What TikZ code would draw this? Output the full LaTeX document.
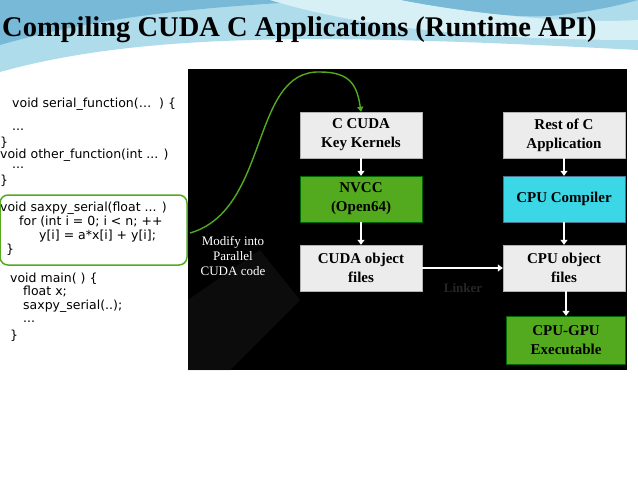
\documentclass[tikz,border=0pt]{standalone}
\usepackage{fontspec}
\setmainfont{Liberation Serif}
\newfontfamily\codefont{DejaVu Sans}
\usetikzlibrary{arrows.meta}
\definecolor{ngreen}{RGB}{84,170,30}
\definecolor{ncyan}{RGB}{60,215,230}
\definecolor{sw1}{RGB}{120,185,215}
\definecolor{sw2}{RGB}{175,220,235}
\definecolor{sw3}{RGB}{215,240,245}
\begin{document}
\begin{tikzpicture}[x=1pt,y=-1pt,
  box/.style={draw=gray!60,fill=gray!15,minimum width=122pt,minimum height=46pt,align=center,font=\bfseries\fontsize{15}{19}\selectfont,text=black,inner sep=1pt},
  gbox/.style={box,fill=ngreen,draw=green!40!black},
  cbox/.style={box,fill=ncyan,draw=cyan!50!black},
  code/.style={anchor=west,font=\codefont\fontsize{12.5}{13}\selectfont,inner sep=0pt},
  arr/.style={white,line width=1.6pt,-{Triangle[length=5pt,width=7pt]}}]
\useasboundingbox (0,0) rectangle (638,479);
\fill[white] (0,0) rectangle (638,479);
% background swoosh
\fill[sw2] (0,0) -- (0,72) .. controls (150,30) and (350,35) .. (638,50) -- (638,0) -- cycle;
\fill[sw1] (0,0) -- (0,45) .. controls (120,10) and (250,5) .. (330,0) -- cycle;
\fill[sw1] (400,0) .. controls (450,10) and (520,20) .. (560,15) .. controls (600,10) and (620,5) .. (638,0) -- cycle;
\fill[sw3] (270,0) .. controls (320,15) and (420,40) .. (638,40) -- (638,20) .. controls (560,25) and (450,10) .. (400,0) -- cycle;
\node[anchor=west,font=\bfseries\fontsize{28.5}{30}\selectfont,inner sep=0pt] (title) at (2,30) {Compiling CUDA C Applications (Runtime API)};
% black panel
\fill[black] (188,69) rectangle (627,370);
\fill[gray!20!black,opacity=0.5] (188,300) -- (260,250) -- (300,300) -- (230,370) -- (188,370) -- cycle;
% code
\node[code] (c1) at (12,104) {void serial\_function(…~~) \{};
\node[code] (c2) at (12,130) {...};
\node[code] (c3) at (0,143) {\}};
\node[code] (c4) at (0,155) {void other\_function(int ... )};
\node[code] (c5) at (12,168) {...};
\node[code] (c6) at (0,181) {\}};
\node[code] (c7) at (0,208) {void saxpy\_serial(float ... )};
\node[code] (c8) at (19,222) {for (int i = 0; i < n; ++};
\node[code] (c9) at (39,236) {y[i] = a*x[i] + y[i];};
\node[code] (c10) at (6,250) {\}};
\node[code] (c11) at (10,279) {void main( ) \{};
\node[code] (c12) at (23,291) {float x;};
\node[code] (c13) at (23,306) {saxpy\_serial(..);};
\node[code] (c14) at (23,322) {...};
\node[code] (c15) at (10,336) {\}};
\draw[ngreen,line width=1.5pt,rounded corners=8pt] (0,195) rectangle (187,265);
\coordinate (cs) at (190,233);
\node[white,align=center,font=\fontsize{13}{15}\selectfont] (mod) at (233,256) {Modify into\\Parallel\\CUDA code};
% boxes
\node[box] (ck) at (361,135) {C CUDA\\Key Kernels};
\node[box] (rc) at (564,135) {Rest of C\\Application};
\node[gbox] (nv) at (361,199) {NVCC\\(Open64)};
\node[cbox] (cc) at (564,199) {CPU Compiler};
\node[box] (co) at (361,268) {CUDA object\\files};
\node[box] (po) at (564,268) {CPU object\\files};
\node[gbox,minimum width=119pt,minimum height=48pt] (ex) at (566,340) {CPU-GPU\\Executable};
\draw[ngreen,line width=1.4pt,-{Triangle[length=5pt,width=6pt]}] (cs) .. controls (270,210) and (250,70) .. (320,72) .. controls (350,72) and (357,85) .. (ck.north);
\draw[arr] (ck) -- (nv);
\draw[arr] (nv) -- (co);
\draw[arr] (rc) -- (cc);
\draw[arr] (cc) -- (po);
\draw[arr] (po.south -| ex) -- (ex);
\draw[arr] (co) -- (po);
\node[text=gray!30!black,font=\bfseries\fontsize{13}{14}\selectfont] (lk) at (463,288) {Linker};
\end{tikzpicture}
\end{document}
